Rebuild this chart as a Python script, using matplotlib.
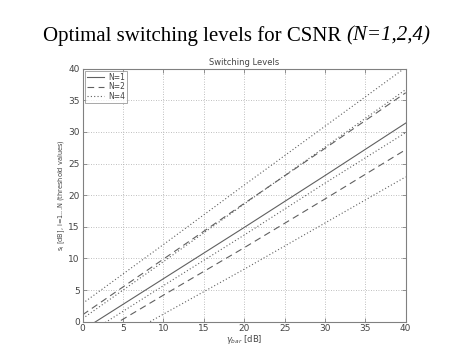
import matplotlib
matplotlib.use("Agg")
import matplotlib.pyplot as plt
import numpy as np

# Data (gamma_bar in dB -> threshold in dB)
gamma_bar = [0, 10, 20, 30, 40]
n1_s1 = [-1.3, 6.8, 14.9, 23.1, 31.4]
n2_s1 = [-3.4, 4.2, 11.7, 19.4, 27.2]
n2_s2 = [1.1, 9.9, 18.7, 27.4, 36.2]
n4_s1 = [-6.0, 1.2, 8.3, 15.6, 22.9]
n4_s2 = [-2.4, 5.7, 13.7, 21.9, 29.9]
n4_s3 = [0.5, 9.5, 18.6, 27.6, 36.7]
n4_s4 = [2.9, 12.2, 21.6, 30.9, 40.2]

xticks = [0, 5, 10, 15, 20, 25, 30, 35, 40]
yticks = [0, 5, 10, 15, 20, 25, 30, 35, 40]

W, H = 474, 355
fig = plt.figure(figsize=(W / 100, H / 100), dpi=100)
fig.patch.set_facecolor("white")

fig.text(341 / W, 0.885, "Optimal switching levels for CSNR", ha="right", va="baseline",
         fontsize=15, family="Liberation Serif", color="black")
fig.text(346 / W, 0.885, "(N=1,2,4)", ha="left", va="baseline",
         fontsize=15, family="Liberation Serif", style="italic", color="black")

ax = fig.add_axes([82.7 / W, 1 - 321.7 / H, (405.7 - 82.7) / W, (321.7 - 68.7) / H])

lc = "#606060"
ax.plot(gamma_bar, n1_s1, color=lc, lw=0.8, ls="-", label="N=1")
ax.plot(gamma_bar, n2_s1, color=lc, lw=0.8, ls=(0, (6, 4)), label="N=2")
ax.plot(gamma_bar, n2_s2, color=lc, lw=0.8, ls=(0, (6, 4)))
ax.plot(gamma_bar, n4_s1, color=lc, lw=0.8, ls=(0, (1, 2)), label="N=4")
ax.plot(gamma_bar, n4_s2, color=lc, lw=0.8, ls=(0, (1, 2)))
ax.plot(gamma_bar, n4_s3, color=lc, lw=0.8, ls=(0, (1, 2)))
ax.plot(gamma_bar, n4_s4, color=lc, lw=0.8, ls=(0, (1, 2)))

ax.set_xlim(0, 40)
ax.set_ylim(0, 40)
ax.set_xticks(xticks)
ax.set_yticks(yticks)
ax.grid(True, ls=(0, (1, 2)), color="#aaaaaa", lw=0.6)
for s in ax.spines.values():
    s.set_color("#808080")
    s.set_linewidth(0.8)
ax.tick_params(direction="in", length=3, width=0.6, color="#808080",
               labelsize=6.5, labelcolor="#444444", top=True, right=True, pad=2)

ax.set_title("Switching Levels", fontsize=6, color="#444444", pad=3)
ax.set_xlabel(r"$\gamma_{bar}$ [dB]", fontsize=6, color="#444444", labelpad=0)
ax.set_ylabel(r"s$_{\mathrm{i}}$ [dB], i=1...N (threshold values)", fontsize=4.8,
              color="#444444", labelpad=1)

leg = ax.legend(loc="upper left", fontsize=5.5, frameon=True, fancybox=False,
                handlelength=2.2, borderpad=0.25, labelspacing=0.05,
                borderaxespad=0.3, handletextpad=0.6)
leg.get_frame().set_edgecolor("#808080")
leg.get_frame().set_linewidth(0.6)
for t in leg.get_texts():
    t.set_color("#444444")

fig.savefig("out.png", dpi=100)
